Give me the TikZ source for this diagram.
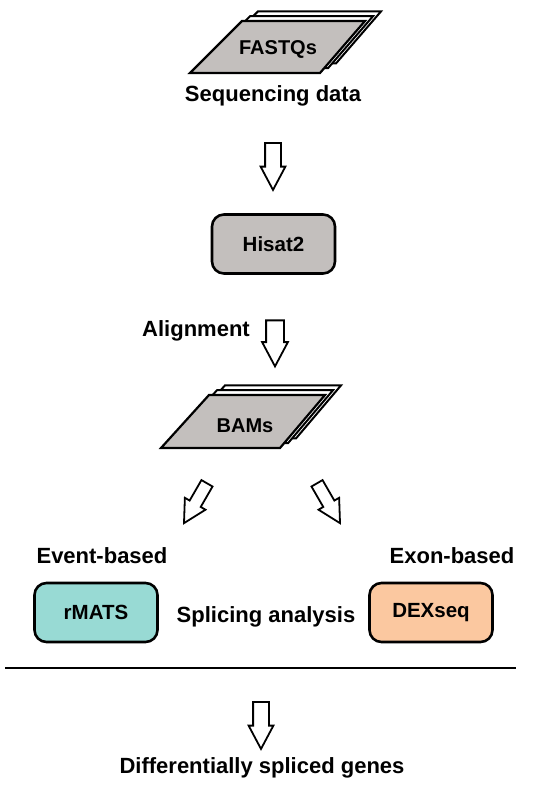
\documentclass[tikz,border=0pt]{standalone}
\usepackage{fontspec}
\setmainfont{Liberation Sans}
\usetikzlibrary{shapes.arrows}
\definecolor{sheetgray}{RGB}{195,191,189}
\definecolor{rmatsteal}{RGB}{152,218,212}
\definecolor{dexpeach}{RGB}{251,200,160}
\tikzset{
  lbl/.style={font=\bfseries\fontsize{22}{26}\selectfont,inner sep=0pt},
  toolbox/.style={draw,line width=2.6pt,rounded corners=12pt,minimum width=123pt,minimum height=59pt,font=\bfseries\fontsize{20.5}{24}\selectfont},
  hollowarrow/.style={single arrow,draw,line width=1.8pt,fill=white,inner sep=7pt,single arrow head extend=4.5pt,single arrow tip angle=56,minimum height=47pt}
}
\begin{document}
\begin{tikzpicture}[x=1pt,y=-1pt]
\useasboundingbox(0,0)rectangle(550,792);
%fastq files
\foreach \d in {16,8}{
\draw[line width=2pt,fill=white,shift={(\d,-\d*0.6)}](190,73)--(320,73)--(365,21)--(242,21)--cycle;
}
\draw[line width=2.2pt,fill=sheetgray](190,73)--(320,73)--(365,21)--(242,21)--cycle;
\node[lbl,font=\bfseries\fontsize{20}{24}\selectfont,anchor=base](fastq)at(278,55){FASTQs};
\node[lbl,anchor=base](seqdata)at(273,101){Sequencing data};
\node[hollowarrow,rotate=-90](arr1)at(273,159){};
%alignment
\node[toolbox,fill=sheetgray](hisat)at(273.5,244){Hisat2};
\node[lbl,anchor=base](align)at(196,336){Alignment};
\node[hollowarrow,rotate=-90,inner sep=8pt,single arrow head extend=4pt,minimum height=46pt](arr2)at(275,335){};
%bam files
\foreach \d in {16,8}{
\draw[line width=2pt,fill=white,shift={(\d,-\d*0.6)}](161,448)--(280,448)--(325,395)--(209,395)--cycle;
}
\draw[line width=2.2pt,fill=sheetgray](161,448)--(280,448)--(325,395)--(209,395)--cycle;
\node[lbl,font=\bfseries\fontsize{20}{24}\selectfont,anchor=base](bam)at(245,432){BAMs};
\node[hollowarrow,rotate=-120,inner sep=5.5pt,single arrow head extend=5.5pt,minimum height=46pt](arrl)at(198.5,498){};
\node[hollowarrow,rotate=-60,inner sep=5.5pt,single arrow head extend=5.5pt,minimum height=46pt](arrr)at(325.5,498){};
%splicing analysis
\node[lbl,anchor=base](event)at(102,563){Event-based};
\node[lbl,anchor=base](exon)at(452,563){Exon-based};
\node[toolbox,fill=rmatsteal](rmats)at(96,612.5){rMATS};
\node[toolbox,fill=dexpeach](dexseq)at(431,612.5){DEXseq};
\node[lbl,anchor=base](splice)at(266,622){Splicing analysis};
\draw[line width=2pt](5,668)--(516,668);
%result
\node[hollowarrow,rotate=-90](arr3)at(261,718){};
\node[lbl,anchor=base](dsg)at(262,773){Differentially spliced genes};
\end{tikzpicture}
\end{document}
